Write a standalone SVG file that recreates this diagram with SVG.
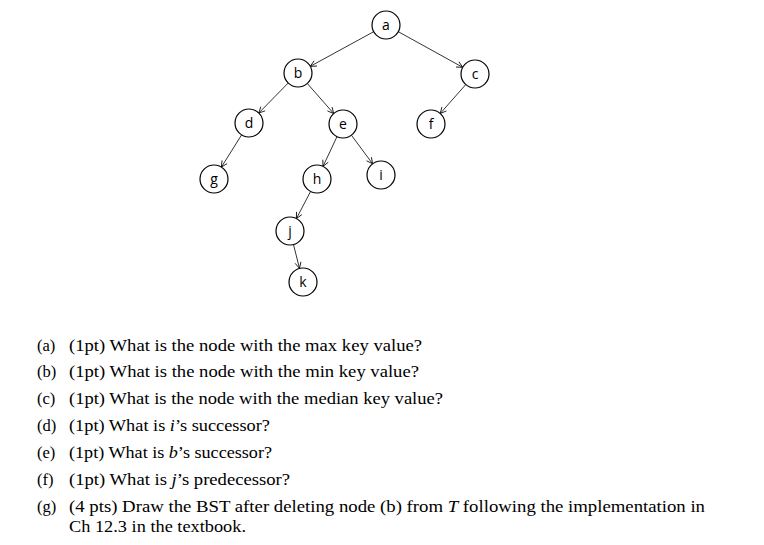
<svg xmlns="http://www.w3.org/2000/svg" width="764" height="545" viewBox="0 0 764 545">
<style>
.n circle{fill:#fff;stroke:#000;stroke-width:1.2}
.n text{font-family:"Open Sans","Liberation Sans",sans-serif;font-size:14px;text-anchor:middle;dominant-baseline:central}
.e line{stroke:#000;stroke-width:0.8;marker-end:url(#ar)}
.q{font-family:"Liberation Serif",serif;font-size:16.5px}
</style>
<defs><marker id="ar" markerWidth="8" markerHeight="8" refX="7" refY="4" orient="auto" markerUnits="userSpaceOnUse"><path d="M1,1 L7,4 L1,7" fill="none" stroke="#000" stroke-width="0.8"/></marker></defs>
<rect width="764" height="545" fill="#fff"/>
<g class="e" id="connectors">
<line x1="373.7" y1="31.7" x2="310.3" y2="66.3"/>
<line x1="398.3" y1="31.7" x2="462.7" y2="67.3"/>
<line x1="288.2" y1="83" x2="258.8" y2="113"/>
<line x1="307.3" y1="83.5" x2="333.7" y2="113.5"/>
<line x1="465.8" y1="84.5" x2="440.2" y2="113.5"/>
<line x1="241.6" y1="134.9" x2="221.4" y2="167.1"/>
<line x1="337" y1="136.6" x2="323" y2="166.4"/>
<line x1="351.4" y1="135.2" x2="372.6" y2="163.8"/>
<line x1="310.6" y1="191.4" x2="296.4" y2="218.6"/>
<line x1="293.5" y1="244.6" x2="299.5" y2="268.4"/>
</g>
<g class="n" id="a"><circle cx="386" cy="25" r="14"/><text x="386" y="24">a</text></g>
<g class="n" id="b"><circle cx="298" cy="73" r="14"/><text x="298" y="72">b</text></g>
<g class="n" id="c"><circle cx="475" cy="74" r="14"/><text x="475" y="73">c</text></g>
<g class="n" id="d"><circle cx="249" cy="123" r="14"/><text x="249" y="122">d</text></g>
<g class="n" id="e"><circle cx="343" cy="124" r="14"/><text x="343" y="123">e</text></g>
<g class="n" id="f"><circle cx="431" cy="124" r="14"/><text x="431" y="123">f</text></g>
<g class="n" id="g"><circle cx="214" cy="179" r="14"/><text x="214" y="178">g</text></g>
<g class="n" id="h"><circle cx="317" cy="179" r="14"/><text x="317" y="178">h</text></g>
<g class="n" id="i"><circle cx="381" cy="175" r="14"/><text x="381" y="174">i</text></g>
<g class="n" id="j"><circle cx="290" cy="231" r="14"/><text x="290" y="230">j</text></g>
<g class="n" id="k"><circle cx="303" cy="282" r="14"/><text x="303" y="281">k</text></g>
<g class="q">
<text x="37" y="351">(a)</text><text x="69" y="351" textLength="353" lengthAdjust="spacingAndGlyphs">(1pt) What is the node with the max key value?</text>
<text x="37" y="377">(b)</text><text x="69" y="377" textLength="350" lengthAdjust="spacingAndGlyphs">(1pt) What is the node with the min key value?</text>
<text x="37" y="404">(c)</text><text x="69" y="404" textLength="374" lengthAdjust="spacingAndGlyphs">(1pt) What is the node with the median key value?</text>
<text x="37" y="431">(d)</text><text x="69" y="431" textLength="201" lengthAdjust="spacingAndGlyphs">(1pt) What is <tspan font-style="italic">i</tspan>’s successor?</text>
<text x="37" y="458">(e)</text><text x="69" y="458" textLength="203" lengthAdjust="spacingAndGlyphs">(1pt) What is <tspan font-style="italic">b</tspan>’s successor?</text>
<text x="37" y="485">(f)</text><text x="69" y="485" textLength="221" lengthAdjust="spacingAndGlyphs">(1pt) What is <tspan font-style="italic">j</tspan>’s predecessor?</text>
<text x="37" y="512">(g)</text><text x="69" y="512" textLength="636" lengthAdjust="spacingAndGlyphs">(4 pts) Draw the BST after deleting node (b) from <tspan font-style="italic">T</tspan> following the implementation in</text>
<text x="69" y="532" textLength="177" lengthAdjust="spacingAndGlyphs">Ch 12.3 in the textbook.</text>
</g>
</svg>
